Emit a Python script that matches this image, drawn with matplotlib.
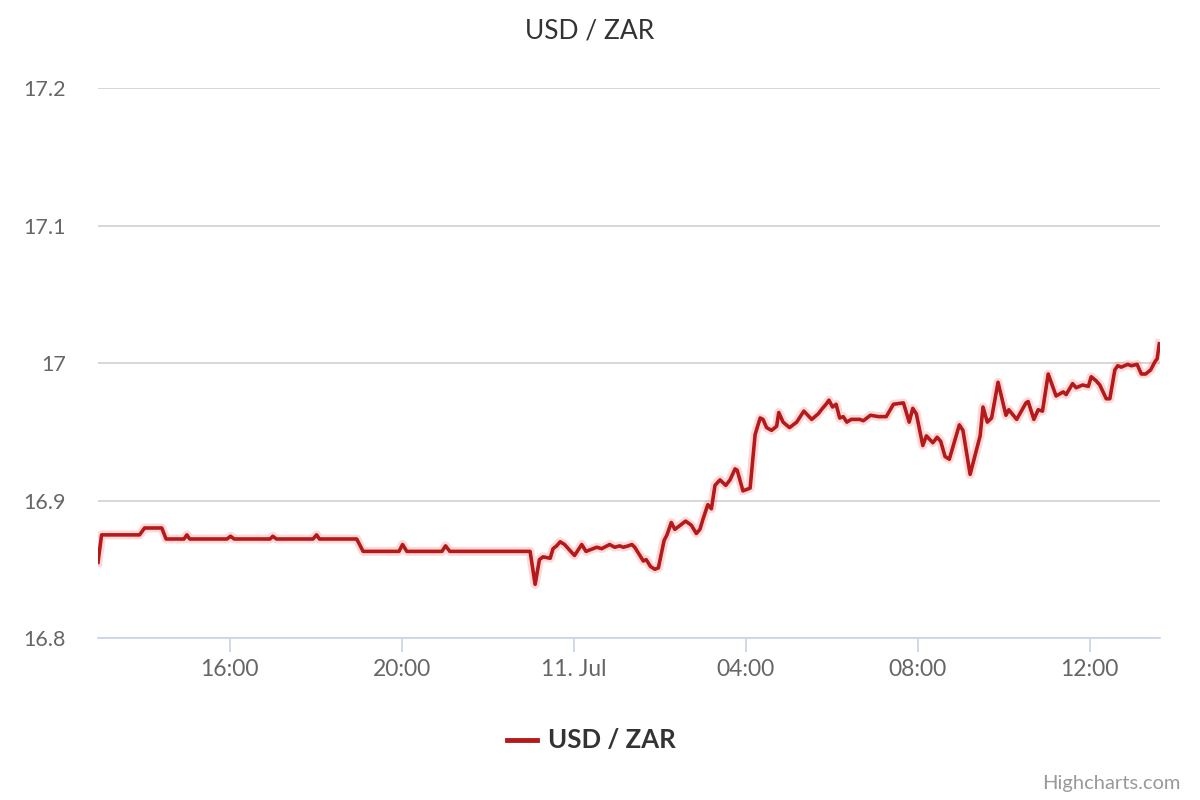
import pandas as pd
import matplotlib
matplotlib.use("Agg")
import matplotlib.pyplot as plt
import matplotlib.dates as mdates
from matplotlib.lines import Line2D

plt.rcParams["font.family"] = ["Lato", "DejaVu Sans"]

# USD / ZAR intraday quotes (10 Jul afternoon -> 11 Jul midday)
times = [
    "12:56", "13:01", "13:54", "14:01", "14:25", "14:31", "14:56", "15:00", "15:04", "15:56",
    "16:01", "16:06", "16:56", "17:00", "17:05", "17:56", "18:01", "18:05", "18:57", "19:06",
    "19:56", "20:01", "20:07", "20:56", "21:01", "21:07", "22:59", "23:06", "23:12", "23:17",
    "23:27", "23:31", "23:36", "23:41", "23:47", "00:01", "00:11", "00:17", "00:32", "00:39",
    "00:50", "00:57", "01:04", "01:09", "01:16", "01:21", "01:25", "01:37", "01:41", "01:47",
    "01:53", "01:58", "02:06", "02:10", "02:16", "02:21", "02:36", "02:44", "02:51", "02:56",
    "03:00", "03:07", "03:12", "03:17", "03:24", "03:32", "03:38", "03:45", "03:48", "03:56",
    "04:06", "04:13", "04:20", "04:24", "04:29", "04:36", "04:43", "04:46", "04:52", "05:01",
    "05:11", "05:21", "05:32", "05:41", "05:47", "05:52", "05:56", "06:01", "06:06", "06:11",
    "06:16", "06:21", "06:27", "06:39", "06:44", "06:54", "07:05", "07:16", "07:26", "07:40",
    "07:48", "07:53", "07:58", "08:07", "08:12", "08:21", "08:27", "08:32", "08:38", "08:44",
    "08:58", "09:03", "09:13", "09:27", "09:31", "09:37", "09:43", "09:52", "10:03", "10:07",
    "10:18", "10:31", "10:34", "10:42", "10:48", "10:54", "11:02", "11:13", "11:23", "11:27",
    "11:36", "11:41", "11:50", "11:58", "12:02", "12:09", "12:14", "12:23", "12:28", "12:35",
    "12:39", "12:44", "12:53", "12:58", "13:06", "13:12", "13:18", "13:25", "13:31", "13:34",
    "13:37",
]
rates = [
    16.855, 16.875, 16.875, 16.880, 16.880, 16.872, 16.872, 16.875, 16.872, 16.872,
    16.874, 16.872, 16.872, 16.874, 16.872, 16.872, 16.875, 16.872, 16.872, 16.863,
    16.863, 16.868, 16.863, 16.863, 16.867, 16.863, 16.863, 16.839, 16.857, 16.859,
    16.858, 16.865, 16.867, 16.870, 16.868, 16.860, 16.868, 16.863, 16.866, 16.865,
    16.868, 16.866, 16.867, 16.866, 16.867, 16.868, 16.866, 16.856, 16.857, 16.852,
    16.850, 16.851, 16.871, 16.875, 16.884, 16.879, 16.885, 16.882, 16.876, 16.879,
    16.886, 16.897, 16.894, 16.911, 16.915, 16.911, 16.915, 16.923, 16.922, 16.907,
    16.909, 16.948, 16.960, 16.959, 16.953, 16.951, 16.954, 16.964, 16.957, 16.953,
    16.957, 16.965, 16.959, 16.963, 16.967, 16.970, 16.973, 16.968, 16.970, 16.960,
    16.961, 16.957, 16.959, 16.959, 16.958, 16.962, 16.961, 16.961, 16.970, 16.971,
    16.957, 16.967, 16.963, 16.940, 16.947, 16.942, 16.946, 16.943, 16.932, 16.930,
    16.955, 16.951, 16.919, 16.947, 16.968, 16.957, 16.960, 16.986, 16.962, 16.966,
    16.959, 16.971, 16.972, 16.959, 16.966, 16.965, 16.992, 16.976, 16.979, 16.977,
    16.985, 16.982, 16.984, 16.983, 16.990, 16.987, 16.984, 16.974, 16.974, 16.995,
    16.998, 16.997, 16.999, 16.998, 16.999, 16.992, 16.992, 16.995, 17.001, 17.003,
    17.014,
]
y_ticks = [16.8, 16.9, 17.0, 17.1, 17.2]
y_tick_labels = ["16.8", "16.9", "17", "17.1", "17.2"]

# the clock wraps at midnight, so bump the day when the time goes backwards
stamps = []
day = pd.Timestamp("2023-07-10")
prev = None
for t in times:
    delta = pd.Timedelta(t + ":00")
    if prev is not None and delta < prev:
        day = day + pd.Timedelta(days=1)
    prev = delta
    stamps.append(day + delta)

fig = plt.figure(figsize=(12, 8), dpi=100)
ax = fig.add_axes([98 / 1200, 1 - 638 / 800, (1160 - 98) / 1200, 550 / 800])

red = "#b41a1a"
ax.plot(stamps, rates, color="#ff3030", lw=6.5, alpha=0.18, solid_joinstyle="round", zorder=2)
ax.plot(stamps, rates, color=red, lw=2.6, solid_joinstyle="round", zorder=3)

ax.set_ylim(16.8, 17.2)
ax.set_xlim(pd.Timestamp("2023-07-10 12:56"), pd.Timestamp("2023-07-11 13:38"))
ax.set_yticks(y_ticks)
ax.set_yticklabels(y_tick_labels)
ax.grid(axis="y", color="#d4d4d4", lw=1.3)
ax.set_axisbelow(True)

ax.xaxis.set_major_locator(mdates.HourLocator(byhour=range(0, 24, 4)))


def fmt_time(x, pos=None):
    d = mdates.num2date(x)
    if d.hour == 0 and d.minute == 0:
        return f"{d.day}. {d.strftime('%b')}"
    return d.strftime("%H:%M")


ax.xaxis.set_major_formatter(plt.FuncFormatter(fmt_time))

for s in ["top", "right", "left"]:
    ax.spines[s].set_visible(False)
ax.spines["bottom"].set_color("#ccd6eb")
ax.spines["bottom"].set_linewidth(1.3)
ax.tick_params(axis="x", colors="#ccd6eb", length=10, width=1.3, labelcolor="#666666",
               labelsize=16.5, pad=5)
ax.tick_params(axis="y", length=0, labelcolor="#666666", labelsize=15.5, pad=23)

fig.text(0.4917, 0.961, "USD / ZAR", ha="center", va="center", fontsize=19, color="#333333")

# legend drawn by hand to match the Highcharts layout
fig.add_artist(Line2D([507 / 1200, 537 / 1200], [1 - 740 / 800] * 2, color=red, lw=3.5))
fig.text(548 / 1200, 1 - 740 / 800, "USD / ZAR", ha="left", va="center", fontsize=18.5,
         fontweight="bold", color="#333333")
fig.text(1180 / 1200, 1 - 783 / 800, "Highcharts.com", ha="right", va="center", fontsize=14.5,
         color="#999999")

fig.savefig("out.png", dpi=100, facecolor="white")
